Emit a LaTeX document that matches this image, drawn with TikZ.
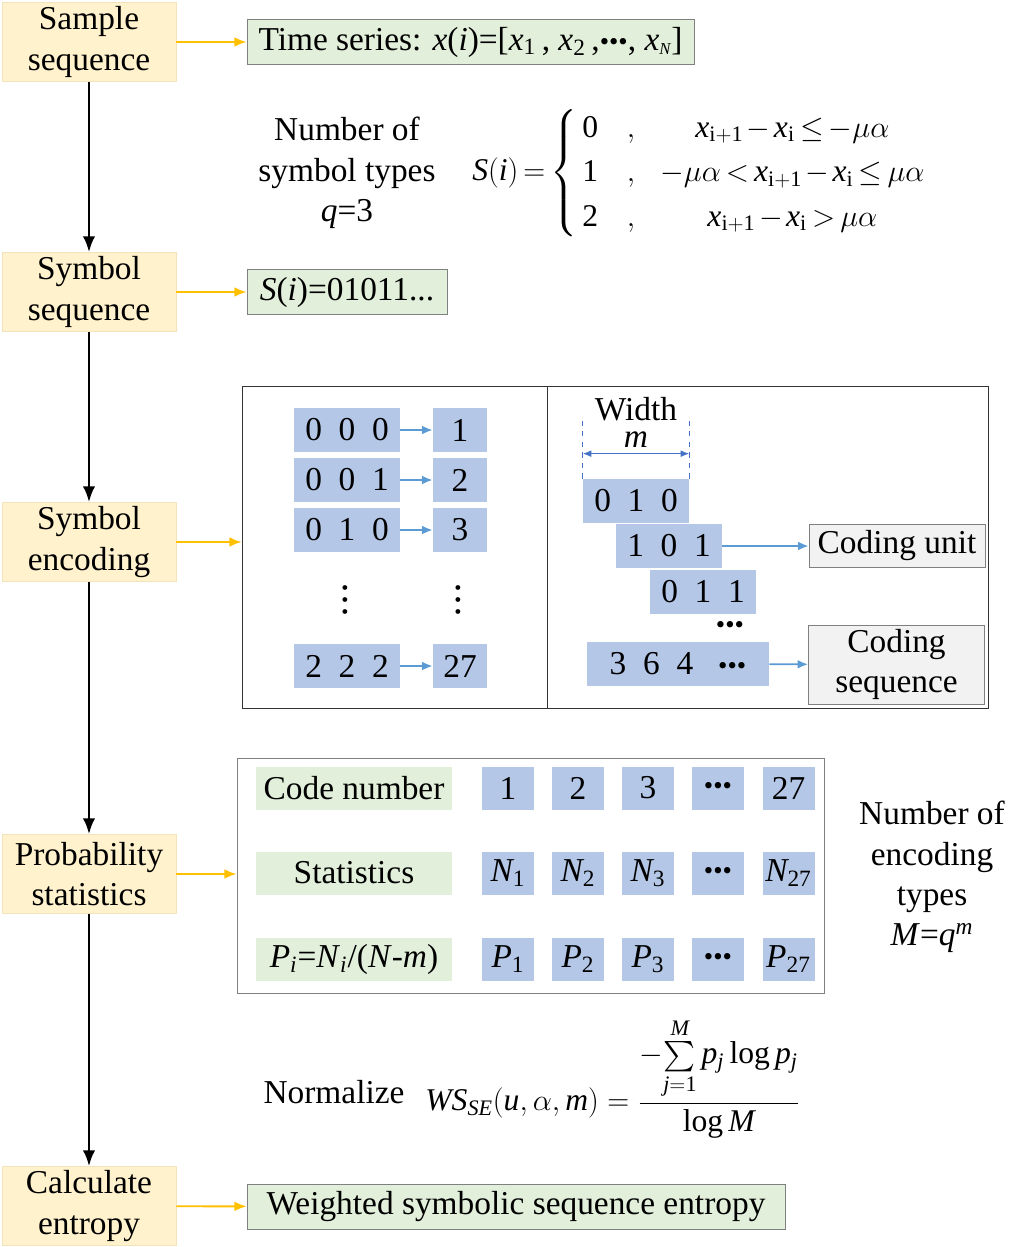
\documentclass[tikz,border=0pt]{standalone}
\usepackage{amsmath}
\usepackage{fontspec}
\setmainfont{Liberation Serif}
\usetikzlibrary{arrows.meta,shapes,calc}

\definecolor{stagefill}{HTML}{FFF2CC}
\definecolor{stageline}{HTML}{F2E3B8}
\definecolor{resfill}{HTML}{E2EFDA}
\definecolor{cellfill}{HTML}{B4C7E7}
\definecolor{tagfill}{HTML}{F2F2F2}
\definecolor{feed}{HTML}{FFC000}
\definecolor{link}{HTML}{5B9BD5}
\definecolor{span}{HTML}{4472C4}
\newcommand{\mi}[1]{\mathit{#1}}
\newcommand{\dotrun}{\scalebox{0.8}{\textbullet\textbullet\textbullet}}
\newcommand{\dotcol}{\rotatebox{90}{\scalebox{0.6}{\textbullet\kern.25em\textbullet\kern.25em\textbullet}}}

\begin{document}
\begin{tikzpicture}
	[x=0.02cm,y=-0.02cm,
	every node/.style={font=\fontsize{19}{23}\selectfont,inner sep=0pt},
	stage/.style={draw=stageline,fill=stagefill,minimum width=3.48cm,
			minimum height=1.58cm,align=center},
	result/.style={draw=black!50,fill=resfill,minimum height=0.9cm},
	cell/.style={fill=cellfill,minimum height=0.88cm},
	tag/.style={draw=black!50,fill=tagfill,minimum width=3.52cm,align=center},
	lab/.style={fill=resfill,minimum width=3.92cm,minimum height=0.86cm},
	flow/.style={-{Latex[length=9pt,width=7pt]},line width=1.4pt},
	feedin/.style={-{Latex[length=7pt,width=5.5pt]},line width=1.1pt,draw=feed},
	linkto/.style={-{Latex[length=6pt,width=5pt]},line width=1.1pt,draw=link}]
	\useasboundingbox (0,0) rectangle (1025,1247);

	% left column
	\node[stage] (sample) at (89,42) {Sample\\sequence};
	\node[stage] (symseq) at (89,292) {Symbol\\sequence};
	\node[stage] (encode) at (89,542) {Symbol\\encoding};
	\node[stage] (prob) at (89,874) {Probability\\statistics};
	\node[stage] (entropy) at (89,1206) {Calculate\\entropy};
	\path
	\foreach \startNode/\endNode in {sample/symseq, symseq/encode, encode/prob, prob/entropy}
	{
		(\startNode) edge[flow] (\endNode)
	};

	% results
	\node[result,minimum width=8.94cm] (ts) at (470.5,42)
		{Time series: \textit{x}(\textit{i})=[$\mi{x}_{\mathrm{1}}$\,, $\mi{x}_{\mathrm{2}}$\,,\dotrun, $\mi{x}_{\scriptscriptstyle \mi{N}}$]};
	\node[result,minimum width=4cm] (sseq) at (347,292) {\textit{S}(\textit{i})=01011...};
	\node[result,minimum width=10.76cm] (wse) at (516,1207)
		{Weighted symbolic sequence entropy};

	\node[align=center] (qtypes) at (347,173) {Number of\\symbol types\\\textit{q}=3};
	\node[anchor=west,font=\fontsize{18}{22}\selectfont] (srule) at (472,173)
		{\thickmuskip=3mu\medmuskip=2mu
		$\mi{S}(\mi{i})=\left\{\renewcommand{\arraystretch}{1.15}
			\begin{array}{@{\,}l@{\hspace{0.9em}}c@{\hspace{0.8em}}c@{}}
				\mathrm{0} & , & \mi{x}_{\mathrm{i+1}}-\mi{x}_{\mathrm{i}}\le-\mu\alpha\\
				\mathrm{1} & , & -\mu\alpha<\mi{x}_{\mathrm{i+1}}-\mi{x}_{\mathrm{i}}\le\mu\alpha\\
				\mathrm{2} & , & \mi{x}_{\mathrm{i+1}}-\mi{x}_{\mathrm{i}}>\mu\alpha
			\end{array}\right.$};

	% encoding panel
	\node[draw=black!80,minimum width=14.92cm,minimum height=6.44cm] (encpanel) at (615,547) {};
	\draw[black!80] (547,386) -- (547,708);
	\foreach \code/\num [count=\k] in {{0\enspace 0\enspace 0}/1, {0\enspace 0\enspace 1}/2, {0\enspace 1\enspace 0}/3}
	{
		\node[cell,minimum width=2.12cm] (c\k) at (347,380+50*\k) {\code};
		\node[cell,minimum width=1.08cm] (n\k) at (460,380+50*\k) {\num};
		\draw[linkto] (c\k) -- (n\k);
	}
	\node (cdots) at (347,600) {\dotcol};
	\node (ndots) at (460,600) {\dotcol};
	\node[cell,minimum width=2.12cm] (clast) at (347,666) {2\enspace 2\enspace 2};
	\node[cell,minimum width=1.08cm] (nlast) at (460,666) {27};
	\draw[linkto] (clast) -- (nlast);

	\node[cell,minimum width=2.12cm] (w1) at (636,501) {0\enspace 1\enspace 0};
	\node[cell,minimum width=2.12cm] (w2) at (669,546) {1\enspace 0\enspace 1};
	\node[cell,minimum width=2.12cm] (w3) at (703,592) {0\enspace 1\enspace 1};
	\node (wdots) at (730,627) {\dotrun};
	\node[cell,minimum width=3.64cm] (wseq) at (678,664) {3\enspace 6\enspace 4\enspace\ \dotrun};
	\draw[span,dashed,thin] (w1.north west) -- ++(0,-62);
	\draw[span,dashed,thin] (w1.north east) -- ++(0,-62);
	\draw[span,{Latex[length=5pt,width=4pt]}-{Latex[length=5pt,width=4pt]},thick]
		($(w1.north west)+(0,-25)$) -- ($(w1.north east)+(0,-25)$);
	\node (width) at (636,409) {Width};
	\node (wm) at (636,440) {\textit{m}};
	\node[tag,minimum height=0.86cm] (unit) at (897,546) {Coding unit};
	\node[tag,minimum height=1.58cm] (codeseq) at (896.5,664.5) {Coding\\sequence};
	\draw[linkto] (w2) -- (unit);
	\draw[linkto] (wseq) -- (codeseq);

	% statistics panel
	\node[draw=black!50,minimum width=11.74cm,minimum height=4.7cm] (statpanel) at (530.5,875.5) {};
	\node[lab] (lcode) at (354,788) {Code number};
	\node[lab] (lstat) at (354,873) {Statistics};
	\node[lab] (lprob) at (354,959) {\textit{P}$_{\mi{i}}$=\textit{N}$_{\mi{i}}$/(\textit{N}-\textit{m})};
	\foreach \x/\t [count=\c] in {508/1, 578/2, 648/3, 718/\dotrun, 788.5/27}
		\node[cell,minimum width=1.04cm,minimum height=0.86cm] (code\c) at (\x,788) {\t};
	\foreach \x/\t [count=\c] in {508/$\mi{N}_{\mathrm{1}}$, 578/$\mi{N}_{\mathrm{2}}$, 648/$\mi{N}_{\mathrm{3}}$, 718/\dotrun, 788.5/$\mi{N}_{\mathrm{27}}$}
		\node[cell,minimum width=1.04cm,minimum height=0.86cm] (cnt\c) at (\x,873) {\t};
	\foreach \x/\t [count=\c] in {508/$\mi{P}_{\mathrm{1}}$, 578/$\mi{P}_{\mathrm{2}}$, 648/$\mi{P}_{\mathrm{3}}$, 718/\dotrun, 788.5/$\mi{P}_{\mathrm{27}}$}
		\node[cell,minimum width=1.04cm,minimum height=0.86cm] (pr\c) at (\x,959) {\t};
	\node[align=center] (mtypes) at (932,877) {Number of\\encoding\\types\\\textit{M}=\textit{q}$^{\mi{m}}$};

	% normalize
	\node (norm) at (334,1092) {Normalize};
	\node[anchor=west,font=\fontsize{18}{22}\selectfont] (wsform) at (425,1078)
		{\medmuskip=3mu
		$\mi{WS}_{\mi{SE}}(\mi{u},\alpha,\mi{m})=\dfrac{-\!\sum\limits_{\mi{j}=\mathrm{1}}^{\mi{M}}\mi{p}_{\mi{j}}\,\mathrm{log}\,\mi{p}_{\mi{j}}}{\mathrm{log}\,\mi{M}}$};

	% feeds
	\draw[feedin] (sample) -- (ts);
	\draw[feedin] (symseq) -- (sseq);
	\draw[feedin] (encode) -- (encode -| encpanel.west);
	\draw[feedin] (prob) -- (prob -| statpanel.west);
	\draw[feedin] (entropy) -- (wse);
\end{tikzpicture}
\end{document}
